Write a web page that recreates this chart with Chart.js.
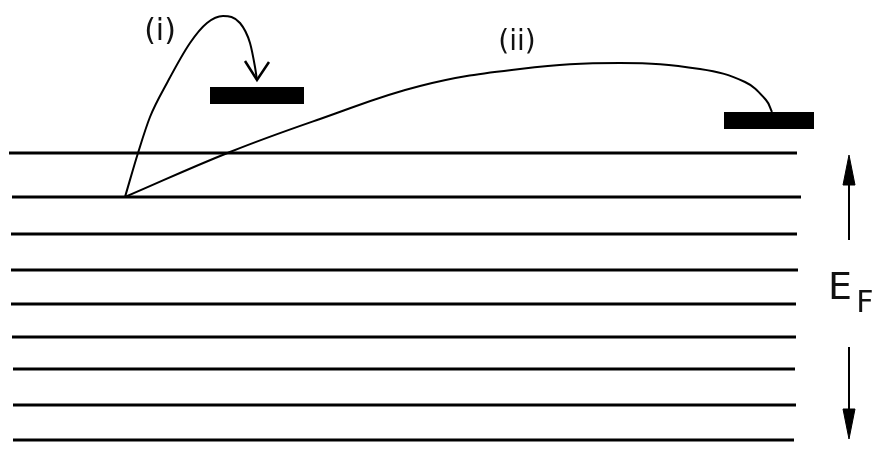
<!DOCTYPE html>
<html>
<head>
<meta charset="utf-8">
<script src="https://cdn.jsdelivr.net/npm/chart.js@4.4.1/dist/chart.umd.min.js"></script>
<style>
  html, body { margin: 0; padding: 0; background: #fff; }
  #diagram { display: block; }
</style>
</head>
<body>
<canvas id="diagram" width="876" height="455"></canvas>
<script>
// energy levels: height of each line and where it starts / stops
const levelY = [153, 197, 234, 270, 304, 337, 369, 405, 440];
const levelStart = [9, 12, 11, 11, 11, 12, 13, 13, 13];
const levelEnd = [797, 801, 797, 798, 796, 796, 795, 796, 794];

// path (i): short hop up into the nearer trap
const pathIX = [125, 138, 150, 167, 190, 207, 223, 240, 250, 255, 257];
const pathIY = [197, 153, 117, 83, 43, 23, 16, 23, 43, 67, 80];
const headIX = [245, 257, 269];
const headIY = [61, 80, 62];

// path (ii): long flight to the far trap
const pathIIX = [125, 230, 320, 420, 520, 620, 700, 745, 766, 772];
const pathIIY = [197, 152, 119, 86, 69, 63, 69, 82, 100, 112];

// traps (thick black bars)
const trapX = [[210, 304], [724, 814]];
const trapY = [95.5, 120.5];

// E_F double arrow
const arrowX = 849;
const arrowUpY = [240, 180];
const arrowDownY = [347, 413];
const headUpY = [155, 185, 185];
const headDownY = [439, 409, 409];

const BLACK = '#000';

function pts(xs, ys) {
  return xs.map((x, i) => ({ x: x, y: ys[i] }));
}

function lineSet(data, width, extra) {
  return Object.assign({
    data: data,
    showLine: true,
    borderColor: BLACK,
    borderWidth: width,
    pointRadius: 0,
    tension: 0,
    fill: false
  }, extra || {});
}

const datasets = [];

levelY.forEach((y, i) => {
  datasets.push(lineSet([{ x: levelStart[i], y: y }, { x: levelEnd[i], y: y }], 3));
});

datasets.push(lineSet(pts(pathIX, pathIY), 2, { tension: 0.35, cubicInterpolationMode: 'monotone' }));
datasets.push(lineSet(pts(headIX, headIY), 2.5, { borderJoinStyle: 'miter' }));
datasets.push(lineSet(pts(pathIIX, pathIIY), 2, { tension: 0.4 }));

trapX.forEach((xs, i) => {
  datasets.push(lineSet([{ x: xs[0], y: trapY[i] }, { x: xs[1], y: trapY[i] }], 17, { borderCapStyle: 'butt' }));
});

datasets.push(lineSet([{ x: arrowX, y: arrowUpY[0] }, { x: arrowX, y: arrowUpY[1] }], 2));
datasets.push(lineSet([{ x: arrowX, y: arrowDownY[0] }, { x: arrowX, y: arrowDownY[1] }], 2));

// arrow heads as small filled triangles
function headSet(ys) {
  const tri = [
    { x: arrowX, y: ys[0] },
    { x: arrowX - 6, y: ys[1] },
    { x: arrowX + 6, y: ys[2] },
    { x: arrowX, y: ys[0] }
  ];
  return lineSet(tri, 1, { fill: 'shape', backgroundColor: BLACK });
}
datasets.push(headSet(headUpY));
datasets.push(headSet(headDownY));

// text labels, placed through the scales
const textPlugin = {
  id: 'diagramText',
  afterDatasetsDraw(chart) {
    const ctx = chart.ctx;
    const xs = chart.scales.x;
    const ys = chart.scales.y;
    const items = [
      { t: '(i)', x: 160, y: 32, size: 30 },
      { t: '(ii)', x: 517, y: 43, size: 28 },
      { t: 'E', x: 840, y: 289, size: 38 },
      { t: 'F', x: 865, y: 304, size: 30 }
    ];
    ctx.save();
    ctx.fillStyle = '#111';
    ctx.textAlign = 'center';
    ctx.textBaseline = 'middle';
    items.forEach(it => {
      ctx.font = it.size + 'px "DejaVu Sans", sans-serif';
      ctx.fillText(it.t, xs.getPixelForValue(it.x), ys.getPixelForValue(it.y));
    });
    ctx.restore();
  }
};

new Chart(document.getElementById('diagram'), {
  type: 'scatter',
  data: { datasets: datasets },
  options: {
    responsive: false,
    animation: false,
    layout: { padding: 0 },
    plugins: {
      legend: { display: false },
      tooltip: { enabled: false }
    },
    scales: {
      x: { type: 'linear', min: 0, max: 876, display: false },
      y: { type: 'linear', min: 0, max: 455, reverse: true, display: false }
    }
  },
  plugins: [textPlugin]
});
</script>
</body>
</html>
